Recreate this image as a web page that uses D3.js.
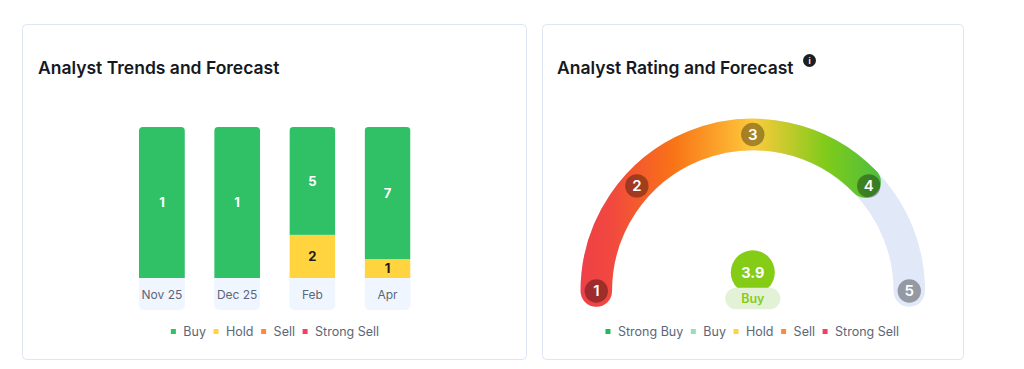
<!DOCTYPE html>
<html>
<head>
<meta charset="utf-8">
<script src="https://cdn.jsdelivr.net/npm/d3@7"></script>
<style>
html, body { margin: 0; padding: 0; background: #fff; overflow: hidden; }
svg { display: block; font-family: Inter, "Noto Sans", sans-serif; }
.title { font-size: 17.5px; font-weight: 600; fill: #15191f; }
.legend text { font-size: 12.5px; fill: #5d6678; }
.tick text { font-size: 12px; fill: #5d6678; }
</style>
</head>
<body>
<svg id="chart" width="1024" height="369"></svg>
<script>
const months = ['Nov 25', 'Dec 25', 'Feb', 'Apr']
const buyCounts = [1, 1, 5, 7]
const holdCounts = [0, 0, 2, 1]
const sellCounts = [0, 0, 0, 0]
const strongSellCounts = [0, 0, 0, 0]

const trendLegend = ['Buy', 'Hold', 'Sell', 'Strong Sell']
const trendColors = ['#30c065', '#ffd43f', '#fb8b3c', '#f43f5e']

const ratingTicks = [1, 2, 3, 4, 5]
const ratingScore = 3.9
const ratingLabel = 'Buy'
// the coloured arc stops almost on node 4 in the picture, further than the score alone
const ratingArcEnd = 3.96
const ratingLegend = ['Strong Buy', 'Buy', 'Hold', 'Sell', 'Strong Sell']
const ratingColors = ['#22b85c', '#97dfb6', '#fdd33f', '#fb8b3c', '#f43f5e']

const svg = d3.select('#chart')
const rad = d => d * Math.PI / 180

const card = (x, y, w, h) =>
    svg.append('rect')
        .attr('x', x).attr('y', y)
        .attr('width', w).attr('height', h)
        .attr('rx', 4)
        .attr('fill', '#fff')
        .attr('stroke', '#dde6f3')

const title = (text, x) =>
    svg.append('text')
        .attr('class', 'title')
        .attr('x', x).attr('y', 74)
        .text(text)

// lays the items out by measured width, then centres the row
const legend = (names, colors, cx, y) => {
    const gap = 7.6
    const g = svg.append('g').attr('class', 'legend')
    let pos = 0
    names.forEach((name, i) => {
        g.append('rect')
            .attr('x', pos).attr('y', y - 2.5)
            .attr('width', 5).attr('height', 5)
            .attr('fill', colors[i])
        const t = g.append('text')
            .attr('x', pos + 12.5).attr('y', y + 4.5)
            .text(name)
        pos += 12.5 + t.node().getComputedTextLength() + gap
    })
    g.attr('transform', `translate(${cx - (pos - gap) / 2},0)`)
}

const drawTrends = () => {
    card(22.5, 24.5, 504, 335)
    title('Analyst Trends and Forecast', 38)

    const table = months.map((m, i) => ({
        month: m,
        Buy: buyCounts[i],
        Hold: holdCounts[i],
        Sell: sellCounts[i],
        'Strong Sell': strongSellCounts[i]
    }))
    // worst rating at the bottom, Buy on top
    const stacked = d3.stack()
        .keys(trendLegend.slice().reverse())
        .offset(d3.stackOffsetExpand)(table)

    const x = d3.scaleBand().domain(months).range([139, 410.5]).paddingInner(0.39)
    const y = d3.scaleLinear().domain([0, 1]).range([278, 127])
    const color = d3.scaleOrdinal().domain(trendLegend).range(trendColors)

    // label boxes under each column
    svg.append('g').selectAll('rect')
        .data(months)
        .enter().append('rect')
        .attr('x', d => x(d))
        .attr('y', y(0) - 8)
        .attr('width', x.bandwidth())
        .attr('height', 40)
        .attr('rx', 5)
        .attr('fill', '#f0f6ff')

    const defs = svg.append('defs')
    months.forEach((m, i) => {
        defs.append('clipPath').attr('id', 'col' + i)
            .append('rect')
            .attr('x', x(m))
            .attr('y', y(1))
            .attr('width', x.bandwidth())
            .attr('height', y(0) - y(1) + 10)
            .attr('rx', 4)
    })

    const cols = svg.append('g').selectAll('g')
        .data(months)
        .enter().append('g')
        .attr('clip-path', (d, i) => `url(#col${i})`)

    cols.selectAll('rect')
        .data((d, i) => stacked.map(s => ({key: s.key, y0: s[i][0], y1: s[i][1], month: d})))
        .enter().append('rect')
        .attr('x', d => x(d.month))
        .attr('y', d => y(d.y1))
        .attr('width', x.bandwidth())
        .attr('height', d => y(d.y0) - y(d.y1))
        .attr('fill', d => color(d.key))

    stacked.forEach(s => {
        s.forEach((p, i) => {
            const v = p.data[s.key]
            if (!v) return
            svg.append('text')
                .attr('x', x(months[i]) + x.bandwidth() / 2)
                .attr('y', (y(p[0]) + y(p[1])) / 2)
                .attr('dy', '0.36em')
                .attr('text-anchor', 'middle')
                .attr('font-size', 13)
                .attr('font-weight', 700)
                .attr('fill', s.key === 'Buy' ? '#fff' : '#1b1b1b')
                .text(v)
        })
    })

    svg.append('g')
        .attr('transform', `translate(0,${y(0)})`)
        .call(d3.axisBottom(x).tickSize(0).tickPadding(12))
        .call(g => g.select('.domain').remove())
        .call(g => g.attr('font-family', null).attr('font-size', null))

    legend(trendLegend, trendColors, 275, 331.5)
}

const drawGauge = () => {
    card(542.5, 24.5, 421, 335)
    title('Analyst Rating and Forecast', 557)

    const info = svg.append('g').attr('transform', 'translate(809.5,60.5)')
    info.append('circle').attr('r', 6.5).attr('fill', '#1c1f24')
    info.append('text')
        .attr('text-anchor', 'middle').attr('y', 3)
        .attr('font-size', 8).attr('font-weight', 700).attr('fill', '#fff')
        .text('i')

    const cx = 752.8, cy = 291, r = 156.5, band = 31.5

    const angle = d3.scaleLinear()
        .domain(ratingTicks)
        .range([-90, -47.8, 0, 47.8, 90])

    // gradient runs in the gauge group's coordinates
    const gradient = svg.append('defs').append('linearGradient')
        .attr('id', 'gaugeFill')
        .attr('gradientUnits', 'userSpaceOnUse')
        .attr('x1', -r - band / 2).attr('x2', 127).attr('y1', 0).attr('y2', 0)
    const stops = [[0, '#ef4048'], [0.1, '#f1483f'], [0.31, '#f97316'], [0.58, '#fdca3c'], [0.82, '#7fcb1a'], [1, '#4fbe3d']]
    stops.forEach(([o, c]) => gradient.append('stop').attr('offset', o).attr('stop-color', c))

    const g = svg.append('g').attr('transform', `translate(${cx},${cy})`)

    // d3.path angles run from 3 o'clock, the scale's from 12 o'clock
    const arcTo = end => {
        const p = d3.path()
        p.arc(0, 0, r, rad(angle(1) - 90), rad(angle(end) - 90))
        return p.toString()
    }

    g.append('path')
        .attr('d', arcTo(5))
        .attr('fill', 'none')
        .attr('stroke', '#e1e9f8')
        .attr('stroke-width', band)
        .attr('stroke-linecap', 'round')

    g.append('path')
        .attr('d', arcTo(ratingArcEnd))
        .attr('fill', 'none')
        .attr('stroke', 'url(#gaugeFill)')
        .attr('stroke-width', band)
        .attr('stroke-linecap', 'round')

    g.selectAll('g')
        .data(ratingTicks)
        .enter().append('g')
        .attr('transform', d => `translate(${r * Math.sin(rad(angle(d)))},${-r * Math.cos(rad(angle(d)))})`)
        .call(sel => sel.append('circle').attr('r', 11.7).attr('fill', '#000').attr('fill-opacity', 0.34))
        .call(sel => sel.append('text')
            .attr('text-anchor', 'middle')
            .attr('dy', '0.36em')
            .attr('font-size', 15)
            .attr('font-weight', 600)
            .attr('fill', '#fff')
            .text(d => d))

    const badge = svg.append('g').attr('transform', `translate(${cx},0)`)
    badge.append('circle').attr('cy', 272.3).attr('r', 22).attr('fill', '#84cc16')
    badge.append('text')
        .attr('y', 272.3).attr('dy', '0.36em')
        .attr('text-anchor', 'middle')
        .attr('font-size', 14.5).attr('font-weight', 700).attr('fill', '#fff')
        .text(ratingScore)
    badge.append('rect')
        .attr('x', -27.5).attr('y', 287.7)
        .attr('width', 55).attr('height', 21.6)
        .attr('rx', 10.8)
        .attr('fill', '#e3f2d6')
    badge.append('text')
        .attr('y', 298.5).attr('dy', '0.36em')
        .attr('text-anchor', 'middle')
        .attr('font-size', 12.5).attr('font-weight', 600).attr('fill', '#84cc16')
        .text(ratingLabel)

    legend(ratingLegend, ratingColors, 752.3, 331.5)
}

drawTrends()
drawGauge()
</script>
</body>
</html>
